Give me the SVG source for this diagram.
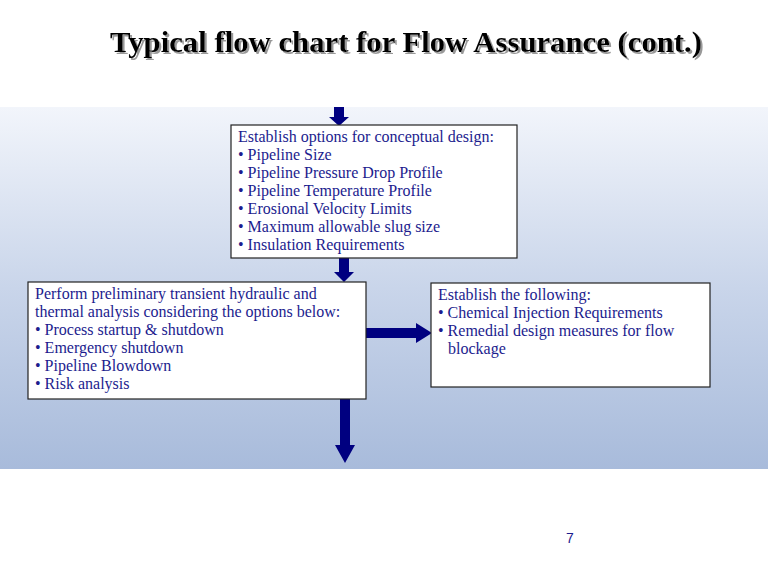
<svg xmlns="http://www.w3.org/2000/svg" width="768" height="576" viewBox="0 0 768 576">
<defs>
<linearGradient id="bg" x1="0" y1="0" x2="0" y2="1">
<stop offset="0" stop-color="#f2f5fb"/>
<stop offset="0.5" stop-color="#c9d5ea"/>
<stop offset="1" stop-color="#a8bbdb"/>
</linearGradient>
<filter id="sh" x="-5%" y="-20%" width="110%" height="140%">
<feDropShadow dx="2" dy="2" stdDeviation="0.6" flood-color="#999"/>
</filter>
</defs>
<style>
.box{fill:#fff;stroke:#222;stroke-width:1.2}
.t{font-family:"Liberation Serif",serif;font-size:16px;fill:#1c1c8e}
.arr{fill:#000080}
</style>
<rect width="768" height="576" fill="#fff"/>
<rect x="0" y="107" width="768" height="362" fill="url(#bg)"/>
<text x="406" y="52" text-anchor="middle" font-family="Liberation Serif,serif" font-weight="bold" font-size="30" fill="#000" filter="url(#sh)" textLength="592" lengthAdjust="spacingAndGlyphs">Typical flow chart for Flow Assurance (cont.)</text>
<g id="connectors">
<polygon class="arr" points="334,107 344,107 344,117 349,117 339,126 329,117 334,117"/>
<polygon class="arr" points="339,258 349,258 349,272 354,272 344,282 334,272 339,272"/>
<polygon class="arr" points="366,328 416,328 416,323 432,333 416,343 416,338 366,338"/>
<polygon class="arr" points="340,399 350,399 350,445 355,445 345,463 335,445 340,445"/>
</g>
<g id="n1">
<rect class="box" x="231" y="125" width="286" height="133"/>
<text class="t" x="238" y="142">Establish options for conceptual design:</text>
<text class="t" x="238" y="160">• Pipeline Size</text>
<text class="t" x="238" y="178">• Pipeline Pressure Drop Profile</text>
<text class="t" x="238" y="196">• Pipeline Temperature Profile</text>
<text class="t" x="238" y="214">• Erosional Velocity Limits</text>
<text class="t" x="238" y="232">• Maximum allowable slug size</text>
<text class="t" x="238" y="250">• Insulation Requirements</text>
</g>
<g id="n2">
<rect class="box" x="28" y="282" width="338" height="117"/>
<text class="t" x="35" y="299">Perform preliminary transient hydraulic and</text>
<text class="t" x="35" y="317">thermal analysis considering the options below:</text>
<text class="t" x="35" y="335">• Process startup &amp; shutdown</text>
<text class="t" x="35" y="353">• Emergency shutdown</text>
<text class="t" x="35" y="371">• Pipeline Blowdown</text>
<text class="t" x="35" y="389">• Risk analysis</text>
</g>
<g id="n3">
<rect class="box" x="431" y="283" width="279" height="104"/>
<text class="t" x="438" y="300">Establish the following:</text>
<text class="t" x="438" y="318">• Chemical Injection Requirements</text>
<text class="t" x="438" y="336">• Remedial design measures for flow</text>
<text class="t" x="448" y="354">blockage</text>
</g>
<text x="570" y="543" text-anchor="middle" font-family="Liberation Sans,sans-serif" font-size="14" fill="#1c1c8e">7</text>
</svg>
